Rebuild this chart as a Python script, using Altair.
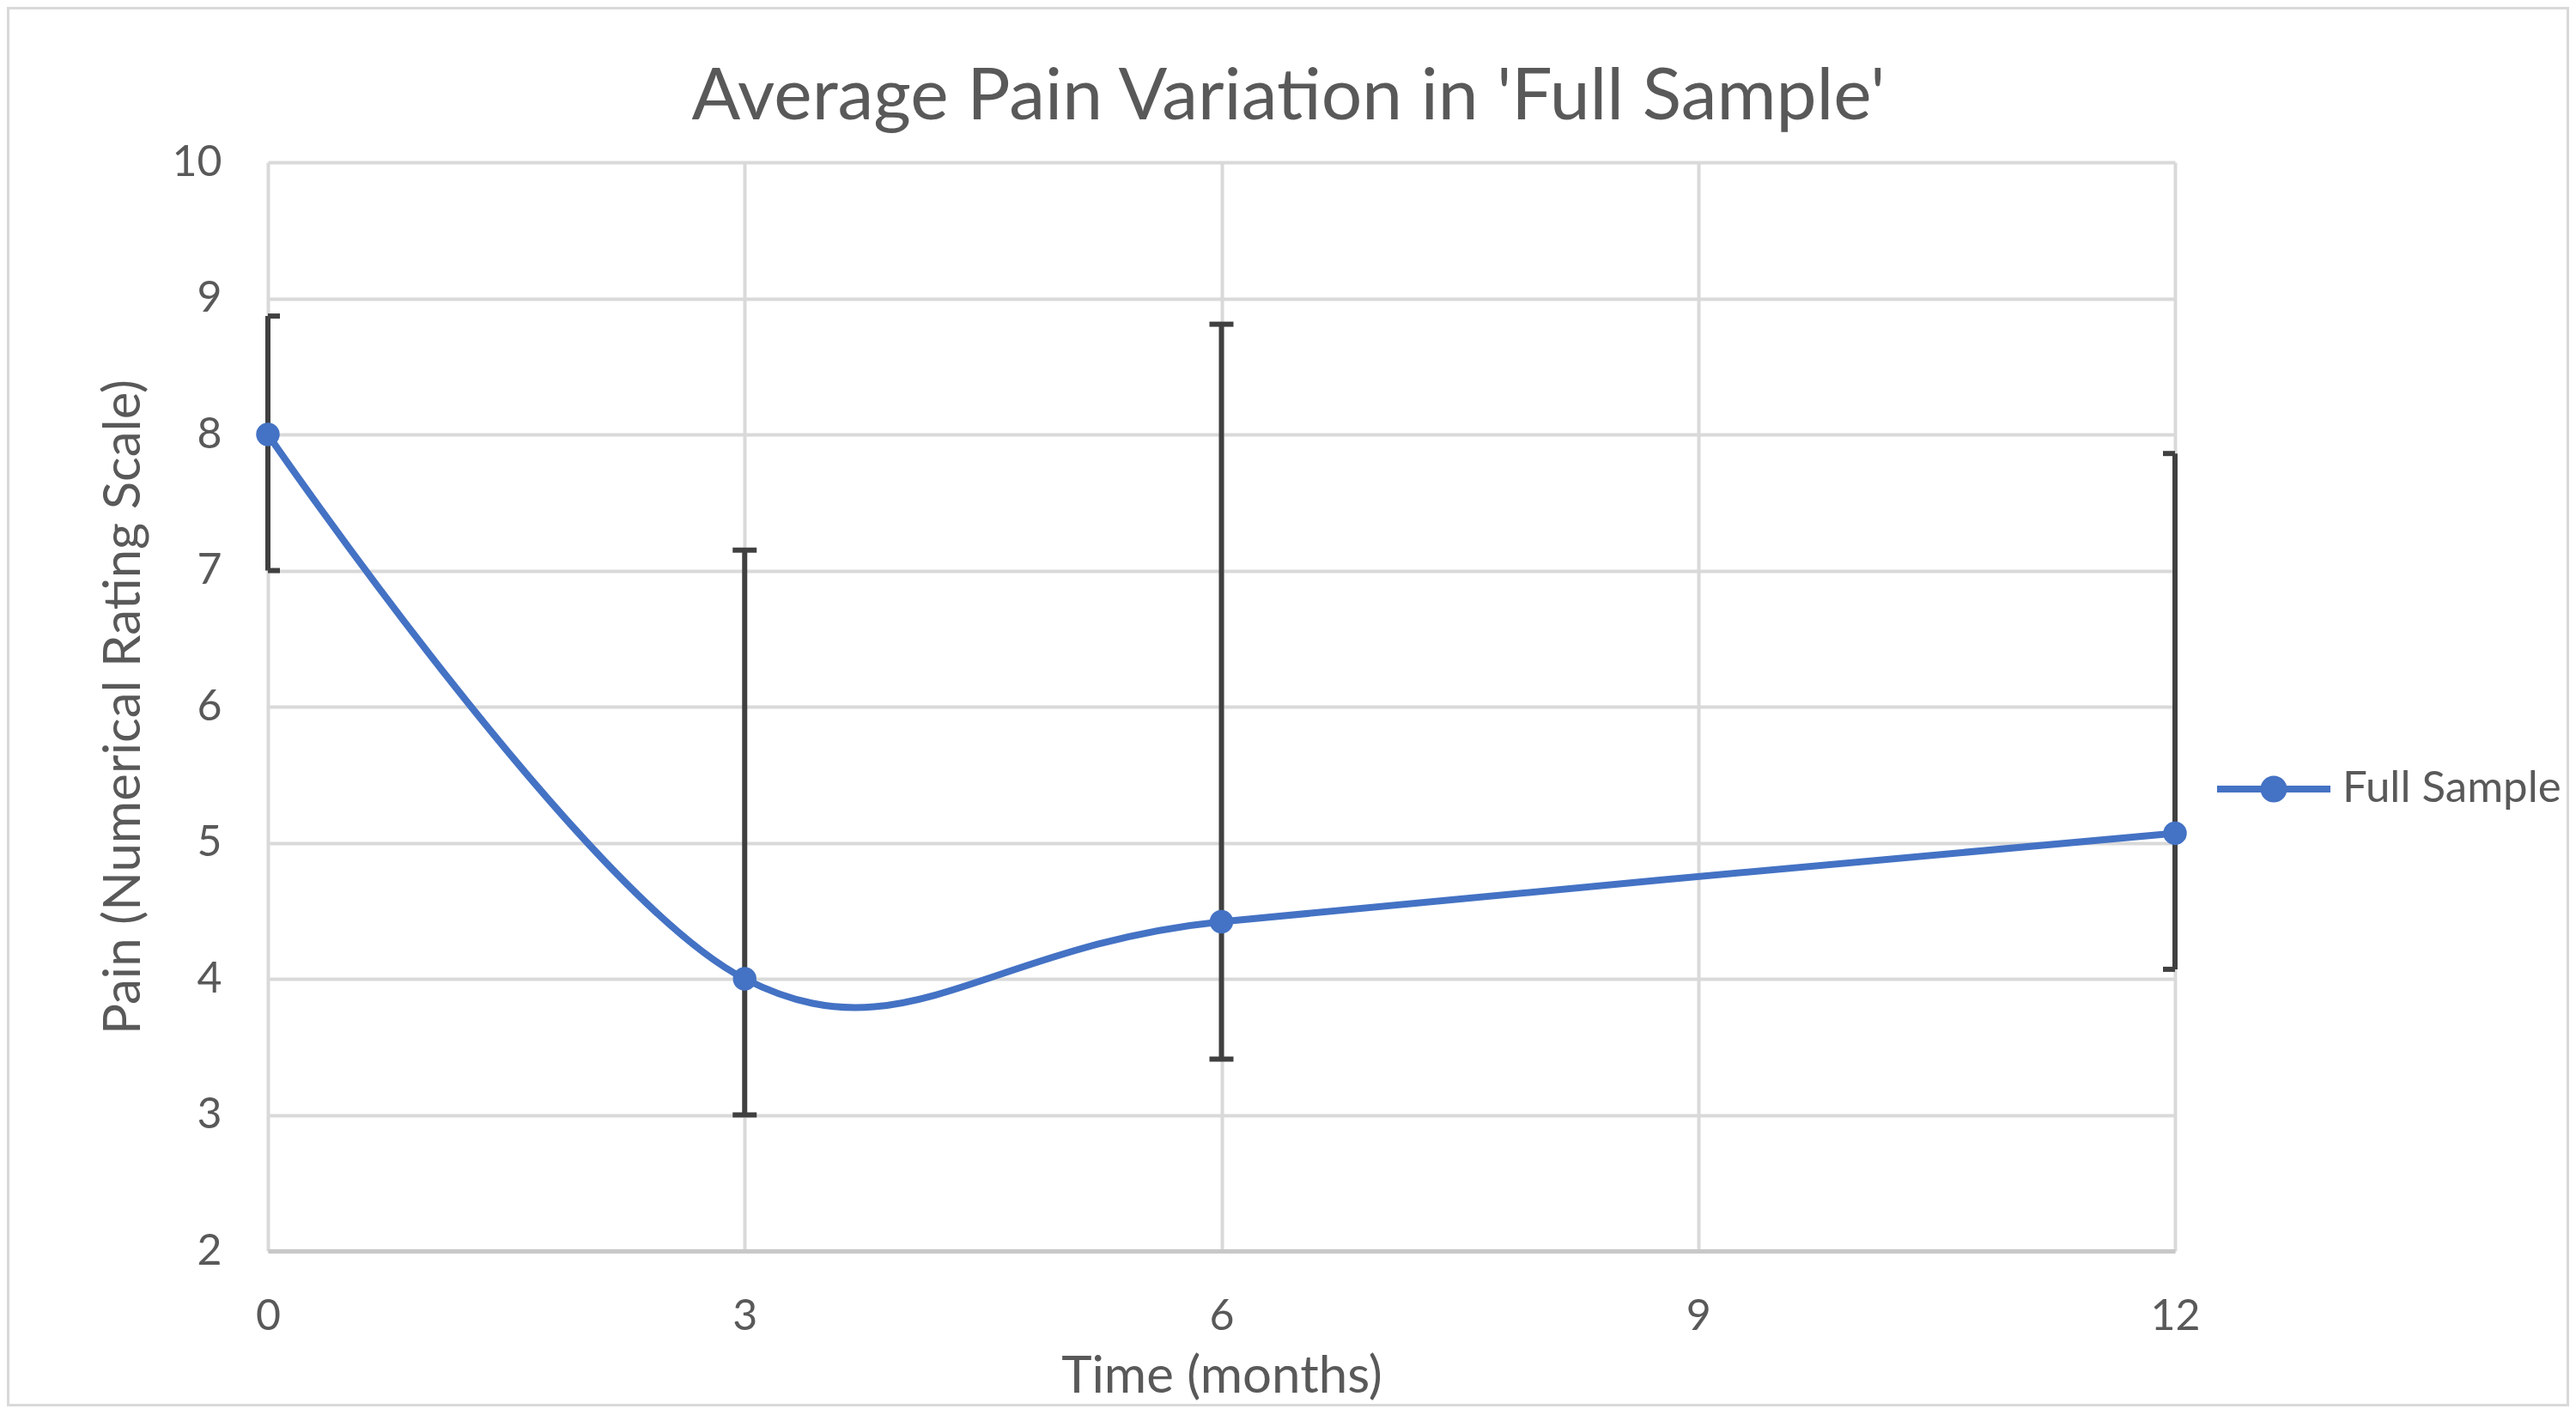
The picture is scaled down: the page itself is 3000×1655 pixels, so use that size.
import altair as alt
import pandas as pd

# ---- data ----
months = [0, 3, 6, 12]
pain_mean = [8.0, 4.0, 4.42, 5.07]
pain_low = [7.0, 3.0, 3.41, 4.07]
pain_high = [8.87, 7.15, 8.81, 7.86]
series_name = ["Full Sample", "Full Sample", "Full Sample", "Full Sample"]
x_ticks = [0, 3, 6, 9, 12]
y_ticks = [2, 3, 4, 5, 6, 7, 8, 9, 10]

chart_title = "Average Pain Variation in 'Full Sample'"
x_title = "Time (months)"
y_title = "Pain (Numerical Rating Scale)"

df = pd.DataFrame({
    "month": months,
    "pain": pain_mean,
    "low": pain_low,
    "high": pain_high,
    "series": series_name,
})

FONT = "Lato"
TEXT = "#595959"
BLUE = "#4472C4"
BAR = "#404040"
GRID = "#D9D9D9"

W, H = 2221, 1268
PL, PT, PR, PB = 304, 181, 459, 181

xs = alt.Scale(domain=[0, 12], nice=False, zero=False)
ys = alt.Scale(domain=[2, 10], nice=False, zero=False)

x_axis = alt.Axis(
    values=x_ticks, title=x_title, grid=True, gridColor=GRID, gridWidth=4,
    domain=True, domainColor="#C8C8C8", domainWidth=5, ticks=False,
    labelFont=FONT, labelFontSize=50, labelColor=TEXT, labelPadding=51,
    labelFlush=False, labelOverlap=False,
    titleFont=FONT, titleFontSize=60, titleColor=TEXT, titleFontWeight="normal",
    titlePadding=16,
)
y_axis = alt.Axis(
    values=y_ticks, title=y_title, grid=True, gridColor=GRID, gridWidth=4,
    domain=False, ticks=False,
    labelFont=FONT, labelFontSize=50, labelColor=TEXT, labelPadding=54,
    labelFlush=False, labelOverlap=False, labelBaseline="middle",
    titleFont=FONT, titleFontSize=60, titleColor=TEXT, titleFontWeight="normal",
    titlePadding=24,
)

X = alt.X("month:Q", scale=xs, axis=x_axis, title=x_title)

base = alt.Chart(df)

bars = base.mark_rule(color=BAR, strokeWidth=6).encode(
    x=X,
    y=alt.Y("low:Q", scale=ys, axis=y_axis, title=y_title),
    y2="high:Q",
)

cap_hi = base.mark_tick(orient="horizontal", color=BAR, size=28, thickness=6,
                        opacity=1, clip=True).encode(
    x=X,
    y=alt.Y("high:Q", scale=ys, axis=y_axis, title=y_title),
)
cap_lo = base.mark_tick(orient="horizontal", color=BAR, size=28, thickness=6,
                        opacity=1, clip=True).encode(
    x=X,
    y=alt.Y("low:Q", scale=ys, axis=y_axis, title=y_title),
)

legend_symbol = (
    "M-1,0 L1,0 "
    "M-0.1742,0 A0.1742,0.1742 0 1,1 0.1742,0 A0.1742,0.1742 0 1,1 -0.1742,0 "
    "M-0.0606,0 A0.0606,0.0606 0 1,1 0.0606,0 A0.0606,0.0606 0 1,1 -0.0606,0"
)

line = base.mark_line(interpolate="cardinal", tension=0, strokeWidth=8,
                      strokeCap="round").encode(
    x=X,
    y=alt.Y("pain:Q", scale=ys, axis=y_axis, title=y_title),
    color=alt.Color(
        "series:N",
        scale=alt.Scale(domain=["Full Sample"], range=[BLUE]),
        legend=alt.Legend(
            title=None, orient="none", legendX=2266, legendY=660, padding=0,
            symbolType=legend_symbol, symbolSize=17424, symbolStrokeWidth=8,
            labelFont=FONT, labelFontSize=51, labelColor=TEXT, labelOffset=10,
            labelLimit=1000,
        ),
    ),
)

points = base.mark_circle(size=755, color=BLUE, opacity=1).encode(
    x=X,
    y=alt.Y("pain:Q", scale=ys, axis=y_axis, title=y_title),
)

frame = alt.Chart(pd.DataFrame({"frame": [0]})).mark_rect(
    filled=False, color=GRID, strokeWidth=3, clip=False
).encode(
    x=alt.value(-PL + 1.5), x2=alt.value(W + PR - 1.5),
    y=alt.value(-PT + 1.5), y2=alt.value(H + PB - 1.5),
)

chart = alt.layer(bars, cap_hi, cap_lo, line, points, frame).properties(
    width=W, height=H,
    autosize=alt.AutoSizeParams(type="none"),
    padding={"left": PL, "top": PT, "right": PR, "bottom": PB},
    title=alt.TitleParams(
        chart_title, font=FONT, fontSize=84, color=TEXT, fontWeight="normal",
        anchor="middle", frame="group", dx=78, offset=-215, baseline="alphabetic",
    ),
).configure(background="white").configure_view(stroke=None)

chart.save("out.html", embed_options={"renderer": "svg", "actions": False})
